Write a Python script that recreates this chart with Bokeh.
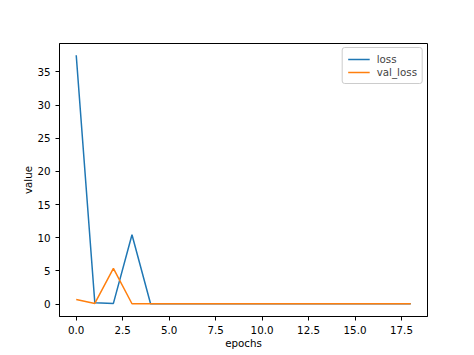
from bokeh.plotting import figure
from bokeh.models import FixedTicker, PrintfTickFormatter, Range1d, Legend, LegendItem
from bokeh.embed import file_html
from bokeh.resources import INLINE

epochs = list(range(19))
loss = [37.5, 0.2, 0.1, 10.45, 0.05, 0.05, 0.05, 0.05, 0.05, 0.05,
        0.05, 0.05, 0.05, 0.05, 0.05, 0.05, 0.05, 0.05, 0.05]
val_loss = [0.7, 0.1, 5.37, 0.05, 0.05, 0.05, 0.05, 0.05, 0.05, 0.05,
            0.05, 0.05, 0.05, 0.05, 0.05, 0.05, 0.05, 0.05, 0.05]
x_ticks = [0, 2.5, 5, 7.5, 10, 12.5, 15, 17.5]
y_ticks = [0, 5, 10, 15, 20, 25, 30, 35]

FONT = "DejaVu Sans"
FS = "10.3px"

p = figure(width=474, height=355, output_backend="svg", toolbar_location=None,
           x_range=Range1d(-0.9, 18.9), y_range=Range1d(-1.87, 39.27),
           min_border_left=59, min_border_right=47, min_border_top=43, min_border_bottom=39)
p.background_fill_color = "white"
p.border_fill_color = "white"
p.outline_line_color = "black"
p.outline_line_width = 1
p.xgrid.visible = False
p.ygrid.visible = False

r1 = p.line(epochs, loss, line_color="#1f77b4", line_width=1.5)
r2 = p.line(epochs, val_loss, line_color="#ff7f0e", line_width=1.5)

for ax in (p.xaxis[0], p.yaxis[0]):
    ax.axis_line_color = "black"
    ax.major_tick_line_color = "black"
    ax.major_tick_out = 4
    ax.major_tick_in = 0
    ax.minor_tick_line_color = None
    ax.major_label_text_font = FONT
    ax.major_label_text_font_size = FS
    ax.major_label_text_color = "black"
    ax.axis_label_text_font = FONT
    ax.axis_label_text_font_size = FS
    ax.axis_label_text_font_style = "normal"
    ax.axis_label_text_color = "black"

p.xaxis.ticker = FixedTicker(ticks=x_ticks)
p.xaxis.formatter = PrintfTickFormatter(format="%.1f")
p.yaxis.ticker = FixedTicker(ticks=y_ticks)
p.xaxis.axis_label = "epochs"
p.yaxis.axis_label = "value"
p.xaxis.axis_label_standoff = 0
p.yaxis.axis_label_standoff = 0
p.yaxis.major_label_orientation = "horizontal"

legend = Legend(items=[LegendItem(label="loss", renderers=[r1]),
                       LegendItem(label="val_loss", renderers=[r2])],
                location="top_right")
legend.label_text_font = FONT
legend.label_text_font_size = FS
legend.border_line_color = "#cccccc"
legend.border_line_alpha = 1
legend.border_radius = 3
legend.glyph_width = 22
legend.glyph_height = 12
legend.label_height = 12
legend.spacing = 1
legend.padding = 5
legend.margin = 4
legend.label_standoff = 7
p.add_layout(legend)

open("out.html", "w").write(file_html(p, INLINE))
